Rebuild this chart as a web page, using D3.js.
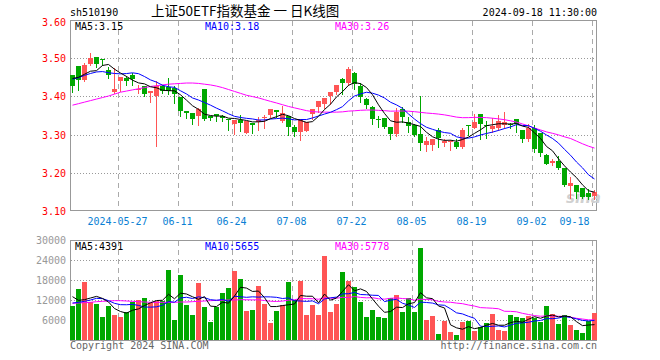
<!DOCTYPE html>
<html><head><meta charset="utf-8">
<script src="https://cdn.jsdelivr.net/npm/d3@7"></script>
<style>
html,body{margin:0;padding:0;background:#fff;}
svg{display:block;}
</style>
</head><body>
<svg id="c" width="660" height="360"></svg>
<script>
const dates = [
"2024-05-15","2024-05-16","2024-05-17","2024-05-20","2024-05-21","2024-05-22","2024-05-23","2024-05-24","2024-05-27","2024-05-28",
"2024-05-29","2024-05-30","2024-05-31","2024-06-03","2024-06-04","2024-06-05","2024-06-06","2024-06-07","2024-06-11","2024-06-12",
"2024-06-13","2024-06-14","2024-06-17","2024-06-18","2024-06-19","2024-06-20","2024-06-21","2024-06-24","2024-06-25","2024-06-26",
"2024-06-27","2024-06-28","2024-07-01","2024-07-02","2024-07-03","2024-07-04","2024-07-05","2024-07-08","2024-07-09","2024-07-10",
"2024-07-11","2024-07-12","2024-07-15","2024-07-16","2024-07-17","2024-07-18","2024-07-19","2024-07-22","2024-07-23","2024-07-24",
"2024-07-25","2024-07-26","2024-07-29","2024-07-30","2024-07-31","2024-08-01","2024-08-02","2024-08-05","2024-08-06","2024-08-07",
"2024-08-08","2024-08-09","2024-08-12","2024-08-13","2024-08-14","2024-08-15","2024-08-16","2024-08-19","2024-08-20","2024-08-21",
"2024-08-22","2024-08-23","2024-08-26","2024-08-27","2024-08-28","2024-08-29","2024-08-30","2024-09-02","2024-09-03","2024-09-04",
"2024-09-05","2024-09-06","2024-09-09","2024-09-10","2024-09-11","2024-09-12","2024-09-13","2024-09-18"];

const open = [
3.455,3.479,3.442,3.485,3.503,3.498,3.469,3.411,3.440,3.448,
3.455,3.416,3.428,3.409,3.402,3.428,3.425,3.422,3.398,3.363,
3.357,3.350,3.420,3.348,3.354,3.348,3.342,3.329,3.338,3.305,
3.331,3.334,3.343,3.351,3.364,3.336,3.349,3.319,3.308,3.310,
3.354,3.373,3.380,3.401,3.412,3.446,3.436,3.462,3.427,3.394,
3.372,3.341,3.343,3.320,3.302,3.366,3.333,3.324,3.302,3.274,
3.274,3.311,3.279,3.280,3.281,3.268,3.324,3.317,3.353,3.324,
3.314,3.316,3.324,3.327,3.340,3.311,3.288,3.316,3.305,3.247,
3.226,3.232,3.213,3.166,3.169,3.160,3.147,3.139];

const high = [
3.456,3.480,3.488,3.514,3.504,3.499,3.476,3.475,3.452,3.453,
3.462,3.431,3.428,3.413,3.440,3.431,3.449,3.428,3.398,3.363,
3.357,3.370,3.420,3.348,3.354,3.352,3.342,3.338,3.351,3.335,
3.331,3.345,3.351,3.366,3.364,3.375,3.349,3.325,3.342,3.334,
3.367,3.388,3.397,3.412,3.430,3.447,3.477,3.463,3.436,3.396,
3.374,3.350,3.343,3.320,3.370,3.372,3.346,3.329,3.401,3.294,
3.288,3.316,3.288,3.285,3.288,3.317,3.325,3.355,3.355,3.335,
3.343,3.352,3.359,3.330,3.340,3.311,3.329,3.324,3.305,3.248,
3.237,3.244,3.213,3.189,3.169,3.160,3.158,3.154];

const low = [
3.411,3.418,3.440,3.483,3.478,3.483,3.447,3.410,3.414,3.431,
3.431,3.409,3.402,3.386,3.269,3.409,3.405,3.383,3.348,3.344,
3.328,3.326,3.339,3.337,3.335,3.335,3.313,3.301,3.310,3.305,
3.303,3.312,3.316,3.345,3.345,3.334,3.299,3.296,3.287,3.310,
3.342,3.360,3.369,3.380,3.405,3.407,3.430,3.420,3.385,3.370,
3.329,3.320,3.317,3.289,3.296,3.333,3.307,3.296,3.260,3.256,
3.259,3.268,3.270,3.259,3.265,3.265,3.299,3.316,3.288,3.290,
3.307,3.311,3.316,3.316,3.307,3.281,3.282,3.254,3.244,3.222,
3.220,3.211,3.166,3.134,3.134,3.134,3.132,3.132];

const close = [
3.427,3.442,3.482,3.501,3.485,3.495,3.455,3.420,3.451,3.440,
3.446,3.420,3.407,3.413,3.427,3.414,3.414,3.405,3.361,3.357,
3.341,3.366,3.342,3.344,3.348,3.344,3.337,3.338,3.331,3.335,
3.325,3.338,3.345,3.366,3.360,3.357,3.319,3.308,3.342,3.334,
3.367,3.388,3.397,3.412,3.429,3.436,3.471,3.433,3.398,3.378,
3.342,3.339,3.320,3.302,3.359,3.346,3.323,3.300,3.279,3.282,
3.288,3.291,3.284,3.282,3.268,3.311,3.322,3.333,3.329,3.322,
3.323,3.335,3.333,3.325,3.329,3.289,3.318,3.261,3.253,3.224,
3.232,3.213,3.169,3.172,3.151,3.137,3.136,3.151];

const volume = [
10130,15400,17500,11500,10900,7050,10100,7650,7050,8450,
11400,12100,12700,11200,11800,11800,21060,5960,19570,10630,
7650,17180,10030,5270,10030,14200,15700,20760,18380,8840,
9140,16290,10930,4970,8840,10630,17480,12120,17780,7650,
10630,7650,25230,8540,10930,20460,17780,15990,11520,7050,
9140,7050,6750,12710,13610,8540,12710,8540,27600,5860,
7350,1690,5560,2280,1390,5270,5560,2580,3770,4970,
7950,2880,2580,7650,7050,6460,7350,6460,5270,10330,
7950,4670,7650,4370,2880,1990,5560,8240];

// moving-average values before enough history exists
const ma5Lead  = [3.447,3.450,3.458,3.466];
const ma10Lead = [3.445,3.449,3.455,3.460,3.464,3.465,3.462,3.460,3.459];
const ma30Lead = [3.377,3.381,3.385,3.389,3.393,3.397,3.401,3.406,3.411,3.414,
                  3.417,3.420,3.423,3.426,3.428,3.430,3.432,3.433,3.434,3.435,
                  3.435,3.434,3.432,3.430,3.427,3.423,3.418,3.413,3.408];
const vma5Lead  = [13000,11900,12100,12600];
const vma10Lead = [11100,11300,11600,12000,12500,12400,11800,11000,10600];
const vma30Lead = [11000,11100,11200,11300,11500,11600,11700,11800,11800,11700,
                   11600,11500,11400,11300,11300,11300,11300,11300,11400,11400,
                   11500,11600,11700,11800,11900,11900,12000,12000,12100];

const priceTicks = [3.10,3.20,3.30,3.40,3.50,3.60];
const volTicks = [6000,12000,18000,24000,30000];
const tickDates = ["2024-05-27","2024-06-11","2024-06-24","2024-07-08","2024-07-22","2024-08-05","2024-08-19","2024-09-02","2024-09-18"];
const tickLabels = ["2024-05-27","06-11","06-24","07-08","07-22","08-05","08-19","09-02","09-18"];
const priceMALabels = ["MA5:3.15","MA10:3.18","MA30:3.26"];
const volMALabels = ["MA5:4391","MA10:5655","MA30:5778"];
const titleText = "上证50ETF指数基金 一 日K线图";
const codeText = "sh510190";
const timeText = "2024-09-18 11:30:00";

function movingAvg(arr, n, lead){
  return arr.map((v,i)=> i < n-1 ? lead[i] : d3.mean(arr.slice(i-n+1,i+1)));
}
const ma5 = movingAvg(close,5,ma5Lead), ma10 = movingAvg(close,10,ma10Lead), ma30 = movingAvg(close,30,ma30Lead);
const vma5 = movingAvg(volume,5,vma5Lead), vma10 = movingAvg(volume,10,vma10Lead), vma30 = movingAvg(volume,30,vma30Lead);

const MONO = "'DejaVu Sans Mono', monospace";
const RED = "#ff5555", GREEN = "#00a800";
const maColors = ["#000000","#0000ff","#ff00ff"];
const L = 70, R = 597, PT = 20, PB = 211, VT = 240, VB = 340;

const svg = d3.select("#c");
svg.append("rect").attr("width",660).attr("height",360).attr("fill","#fff");

const x = d3.scaleBand().domain(dates).range([L, R]).paddingInner(1/6).paddingOuter(0).align(0);
const bw = x.bandwidth();
const y = d3.scaleLinear().domain([3.10,3.60]).range([PB, PT]);
const yv = d3.scaleLinear().domain([0,30000]).range([VB, VT]);

// header texts
svg.append("text").attr("x",L).attr("y",16).attr("font-family",MONO).attr("font-size",10).attr("fill","#000").text(codeText);
svg.append("text").attr("x",151).attr("y",16).attr("font-family","'Noto Sans CJK SC', sans-serif").attr("font-size",13.5).attr("fill","#000").text(titleText);
svg.append("text").attr("x",R).attr("y",16).attr("text-anchor","end").attr("font-family",MONO).attr("font-size",10).attr("fill","#000").text(timeText);

// frames
svg.append("rect").attr("x",L+0.5).attr("y",PT+0.5).attr("width",R-L-1).attr("height",PB-PT-1).attr("fill","none").attr("stroke","#999");
svg.append("rect").attr("x",L+0.5).attr("y",VT+0.5).attr("width",R-L-1).attr("height",VB-VT).attr("fill","none").attr("stroke","#999");

// horizontal dotted grid
const gGrid = svg.append("g").attr("stroke","#999").attr("stroke-dasharray","1,2").attr("fill","none");
priceTicks.filter(t=>t>3.101 && t<3.599).forEach(t=>{
  const yy = Math.round(y(t))+0.5;
  gGrid.append("line").attr("x1",L+1).attr("x2",R-1).attr("y1",yy).attr("y2",yy);
});
volTicks.filter(t=>t<30000).forEach(t=>{
  const yy = Math.round(yv(t))+0.5;
  gGrid.append("line").attr("x1",L+1).attr("x2",R-1).attr("y1",yy).attr("y2",yy);
});
// vertical dashed grid
const gV = svg.append("g").attr("stroke","#aaa").attr("stroke-dasharray","5,4").attr("fill","none");
tickDates.forEach(d=>{
  const xx = x(d)+0.5;
  gV.append("line").attr("x1",xx).attr("x2",xx).attr("y1",PT+1).attr("y2",PB-1);
  gV.append("line").attr("x1",xx).attr("x2",xx).attr("y1",VT+1).attr("y2",VB);
});

// price axis labels
const ya = svg.append("g").attr("transform",`translate(${L},0)`)
  .call(d3.axisLeft(y).tickValues(priceTicks).tickFormat(d3.format(".2f")).tickSize(0).tickPadding(4));
ya.select(".domain").remove();
ya.selectAll("text").attr("font-family",MONO).attr("font-size",10).attr("fill","#ff0000")
  .attr("dy",(d)=> d>=3.599 ? "0.55em" : "0.35em");

// volume axis labels
const va = svg.append("g").attr("transform",`translate(${L},0)`)
  .call(d3.axisLeft(yv).tickValues(volTicks).tickFormat(d=>String(d)).tickSize(0).tickPadding(4));
va.select(".domain").remove();
va.selectAll("text").attr("font-family",MONO).attr("font-size",10).attr("fill","#999");

// date axis
const xa = svg.append("g").attr("transform",`translate(${-bw/2-0.5},${PB})`)
  .call(d3.axisBottom(x).tickValues(tickDates).tickFormat((d,i)=>tickLabels[i]).tickSize(0).tickPadding(7));
xa.select(".domain").remove();
xa.selectAll("text").attr("font-family",MONO).attr("font-size",10).attr("fill","#0a7fd4");
xa.selectAll(".tick").filter((d,i)=>i===tickDates.length-1).select("text").attr("text-anchor","end").attr("x",-2);

// watermark
svg.append("text").attr("x",566).attr("y",203).attr("font-family","'DejaVu Sans', sans-serif").attr("font-size",15)
  .attr("font-weight","bold").attr("font-style","italic").attr("fill","#d0d0d0").text("sina");

// candles
const gC = svg.append("g");
dates.forEach((d,i)=>{
  const up = close[i] >= open[i];
  const col = up ? RED : GREEN;
  const cx = x(d) + 2.5;
  gC.append("line").attr("x1",cx).attr("x2",cx).attr("y1",Math.round(y(high[i]))).attr("y2",Math.round(y(low[i]))+1)
    .attr("stroke",col).attr("stroke-width",1);
  const yt = Math.round(y(Math.max(open[i],close[i])));
  const yb = Math.round(y(Math.min(open[i],close[i])));
  gC.append("rect").attr("x",x(d)).attr("y",yt).attr("width",bw).attr("height",Math.max(1,yb-yt))
    .attr("fill",col).attr("shape-rendering","crispEdges");
});

// volume bars
const gB = svg.append("g");
dates.forEach((d,i)=>{
  const up = close[i] >= open[i];
  gB.append("rect").attr("x",x(d)).attr("y",Math.round(yv(volume[i]))).attr("width",bw)
    .attr("height",VB-Math.round(yv(volume[i]))).attr("fill",up?RED:GREEN).attr("shape-rendering","crispEdges");
});

// MA lines
const lineP = d3.line().x((v,i)=>x(dates[i])+2.5).y(v=>y(v));
const lineV = d3.line().x((v,i)=>x(dates[i])+2.5).y(v=>yv(v));
[ma30,ma10,ma5].forEach((arr,k)=>{
  svg.append("path").attr("d",lineP(arr)).attr("fill","none").attr("stroke",maColors[2-k]).attr("stroke-width",1);
});
[vma30,vma10,vma5].forEach((arr,k)=>{
  svg.append("path").attr("d",lineV(arr)).attr("fill","none").attr("stroke",maColors[2-k]).attr("stroke-width",1);
});

// MA labels
const labX = [75,205,335];
priceMALabels.forEach((t,k)=>{
  svg.append("text").attr("x",labX[k]).attr("y",30).attr("font-family",MONO).attr("font-size",10).attr("fill",maColors[k]).text(t);
});
volMALabels.forEach((t,k)=>{
  svg.append("text").attr("x",labX[k]).attr("y",249.5).attr("font-family",MONO).attr("font-size",10).attr("fill",maColors[k]).text(t);
});

// footer
svg.append("text").attr("x",L).attr("y",349).attr("font-family",MONO).attr("font-size",10).attr("fill","#666").text("Copyright 2024 SINA.COM");
svg.append("text").attr("x",R).attr("y",349).attr("text-anchor","end").attr("font-family",MONO).attr("font-size",10).attr("fill","#666").text("http://finance.sina.com.cn");
</script>
</body></html>
